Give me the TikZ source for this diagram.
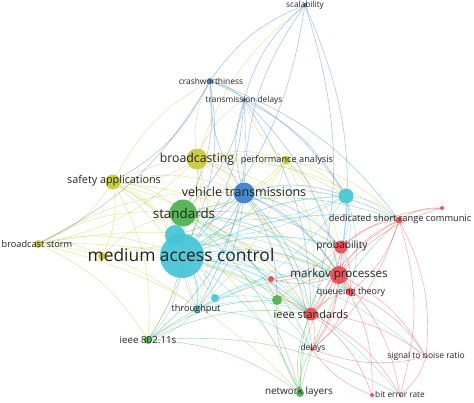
\documentclass[tikz,border=0pt]{standalone}
\usepackage{fontspec}
\setmainfont{Open Sans}
\pgfdeclarelayer{edges}
\pgfsetlayers{edges,main}
\definecolor{cred}{HTML}{E8484D}
\definecolor{cgreen}{HTML}{4CB04C}
\definecolor{cblue}{HTML}{3A7EC6}
\definecolor{cyel}{HTML}{C8C83A}
\definecolor{ccyan}{HTML}{44C4D6}
\definecolor{ctext}{HTML}{222222}
\begin{document}
\begin{tikzpicture}[x=1pt,y=-1pt,
  dot/.style={circle,inner sep=0pt,minimum size=#1,fill opacity=.92},
  lab/.style={text=ctext,inner sep=0pt,font=\fontsize{#1}{#1}\selectfont},
  ed/.style={draw=#1,draw opacity=.42,line width=.6pt},
  edh/.style={draw=#1,draw opacity=.45,line width=1pt}]
\useasboundingbox (0,0) rectangle (474,402);
% nodes (circles)
\node[dot=4,fill=cblue] (scal) at (305,5) {};
\node[dot=6,fill=cblue] (crash) at (210,81) {};
\node[dot=4,fill=cblue] (td) at (244,100) {};
\node[dot=21,fill=cyel] (bc) at (197,159) {};
\node[dot=9,fill=cyel] (pa) at (286,160) {};
\node[dot=15,fill=cyel] (sa) at (113,182) {};
\node[dot=21,fill=cblue] (vt) at (244,193) {};
\node[dot=15,fill=ccyan] (cy) at (346,196) {};
\node[dot=27,fill=cgreen] (std) at (183,213) {};
\node[dot=8,fill=cyel] (bs) at (38,244) {};
\node[dot=8,fill=cyel] (y2) at (102,256) {};
\node[dot=44,fill=ccyan] (mac) at (182,256) {};
\node[dot=20,fill=ccyan] (cy2) at (175,235) {};
\node[dot=8,fill=ccyan] (cy3) at (215,298) {};
\node[dot=8,fill=ccyan] (thr) at (197,309) {};
\node[dot=8,fill=cgreen] (i80) at (148,340) {};
\node[dot=13,fill=cred] (prob) at (341,247) {};
\node[dot=18,fill=cred] (mp) at (339,275) {};
\node[dot=8,fill=cred] (qt) at (350,292) {};
\node[dot=6,fill=cred] (r2) at (271,279) {};
\node[dot=10,fill=cgreen] (g2) at (277,300) {};
\node[dot=13,fill=cred] (ies) at (311,314) {};
\node[dot=7,fill=cred] (dsrc) at (399,220) {};
\node[dot=4,fill=cred] (r3) at (442,208) {};
\node[dot=4,fill=cred] (del) at (312,349) {};
\node[dot=3,fill=cred] (snr) at (426,357) {};
\node[dot=8,fill=cgreen] (nl) at (300,393) {};
\node[dot=3,fill=cred] (ber) at (400,395) {};
\node[dot=4,fill=cred] (r4) at (372,395) {};
% edges
\begin{pgfonlayer}{edges}
\foreach \a/\b in {bc/mac,bc/std,bc/vt,bc/sa,bc/pa,bc/crash,bc/td,bc/mp,bc/prob,bc/ies,bc/thr,bc/cy,bc/bs,bc/i80,bc/dsrc,bc/scal,
 sa/mac,sa/std,sa/bs,sa/y2,sa/vt,sa/crash,sa/nl,sa/i80,sa/thr,sa/mp,sa/ies,sa/cy2,sa/pa,
 pa/mac,pa/vt,pa/std,pa/mp,pa/prob,pa/cy,pa/dsrc,pa/td,pa/ies,pa/thr,
 bs/mac,bs/std,bs/y2,bs/nl,bs/ies,bs/i80,bs/vt,bs/thr,bs/mp,
 y2/mac,y2/std,y2/ies,y2/mp}
  \draw[ed=cyel] (\a) to[bend left=16] (\b);
\foreach \a/\b in {vt/mac,vt/std,vt/cy,vt/prob,vt/mp,vt/ies,vt/thr,vt/dsrc,vt/td,vt/crash,vt/scal,vt/qt,vt/del,vt/cy2,vt/g2,vt/i80,
 crash/td,crash/mac,crash/std,crash/scal,crash/dsrc,crash/bs,crash/sa,crash/cy,
 td/mac,td/std,td/cy,td/scal,td/mp,td/ies,td/thr,
 scal/mac,scal/ies,scal/mp}
  \draw[ed=cblue] (\a) to[bend left=16] (\b);
\foreach \a/\b in {mac/std,mac/cy,mac/prob,mac/mp,mac/ies,mac/dsrc,mac/thr,mac/cy2}
  \draw[edh=ccyan] (\a) to[bend left=16] (\b);
\foreach \a/\b in {mac/qt,mac/i80,mac/nl,mac/del,mac/r2,mac/g2,mac/cy3,mac/snr,mac/ber,
 cy/std,cy/prob,cy/mp,cy/dsrc,cy/ies,cy/thr,cy/cy2,cy/qt,
 cy2/std,cy2/thr,cy2/mp,cy2/ies,
 cy3/mp,cy3/ies,cy3/std,
 thr/std,thr/mp,thr/ies,thr/i80,thr/del}
  \draw[ed=ccyan] (\a) to[bend left=16] (\b);
\foreach \a/\b in {std/i80,std/nl,std/ies,std/mp,std/prob,std/g2,std/dsrc,std/qt,std/del,
 i80/nl,i80/ies,i80/ber,i80/g2,i80/mp,
 nl/ies,nl/mp,nl/g2,nl/del,nl/prob,nl/dsrc,
 g2/mp,g2/ies}
  \draw[ed=cgreen] (\a) to[bend left=16] (\b);
\foreach \a/\b in {prob/mp,prob/dsrc,prob/ies,prob/qt,prob/r3,prob/del,prob/r2,
 mp/dsrc,mp/ies,mp/qt,mp/r2,mp/r3,mp/snr,mp/ber,mp/del,mp/r4,
 ies/dsrc,ies/del,ies/snr,ies/ber,ies/r4,ies/qt,ies/r2,
 dsrc/r3,dsrc/snr,dsrc/ber,dsrc/del,dsrc/qt,
 snr/ber,snr/del,r4/del,qt/del,qt/snr}
  \draw[ed=cred] (\a) to[bend left=16] (\b);
\end{pgfonlayer}
% labels
\node[lab=8.3] (l-scal) at (305,5) {scalability};
\node[lab=8.4] (l-crash) at (211,81) {crashworthiness};
\node[lab=8.3] (l-td) at (244,100) {transmission delays};
\node[lab=12.3] (l-bc) at (197,159) {broadcasting};
\node[lab=9.2] (l-pa) at (287,160) {performance analysis};
\node[lab=10.8] (l-sa) at (114,181) {safety applications};
\node[lab=12.5] (l-vt) at (244,192) {vehicle transmissions};
\node[lab=13.4] (l-std) at (184,213) {standards};
\node[lab=9.2] (l-bs) at (37,244) {broadcast storm};
\node[lab=17.4] (l-mac) at (181,255) {medium access control};
\node[lab=9.2] (l-thr) at (196,309) {throughput};
\node[lab=9.8] (l-i80) at (148,340) {ieee 802.11s};
\node[lab=10.2] (l-prob) at (342,246) {probability};
\node[lab=11.6] (l-mp) at (339,274) {markov processes};
\node[lab=8.9] (l-qt) at (351,292) {queueing theory};
\node[lab=10.9] (l-ies) at (311,314) {ieee standards};
\node[lab=9.25] (l-dsrc) at (400,219) {dedicated short range communic};
\node[lab=8.4] (l-del) at (313,348) {delays};
\node[lab=8.5] (l-snr) at (426,356) {signal to noise ratio};
\node[lab=9.9] (l-nl) at (299,392) {network layers};
\node[lab=8.3] (l-ber) at (400,394) {bit error rate};
\end{tikzpicture}
\end{document}
